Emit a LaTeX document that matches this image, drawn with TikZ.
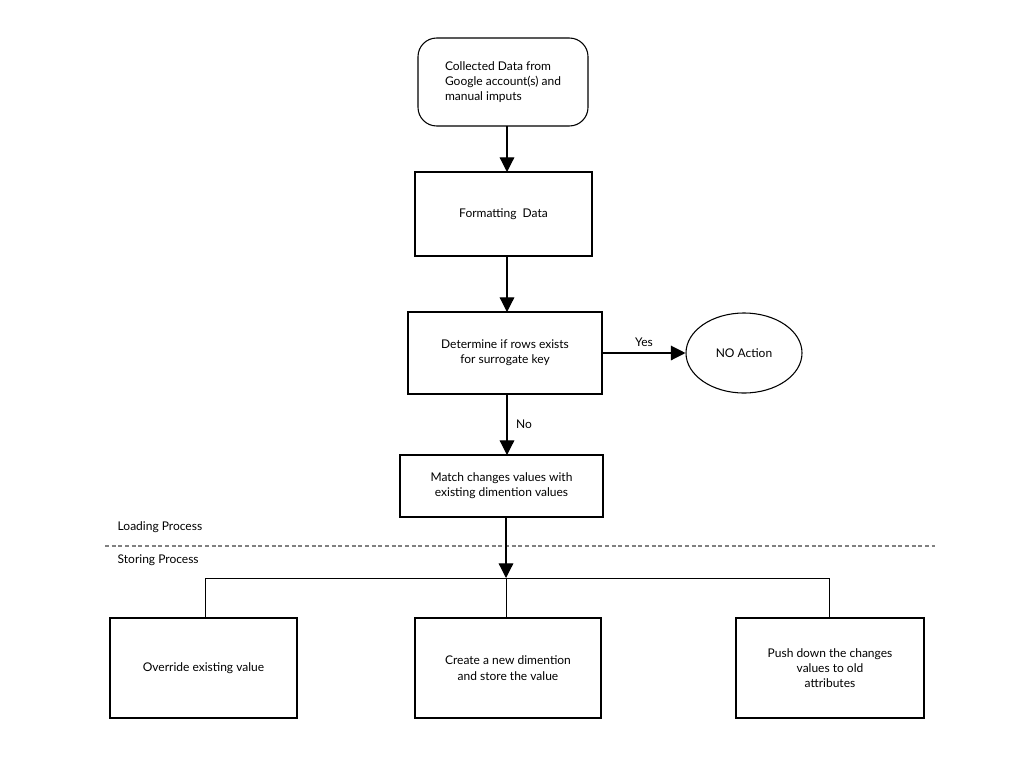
\documentclass[tikz,border=0pt]{standalone}
\usepackage{fontspec}
\setmainfont{Lato}
\usetikzlibrary{arrows.meta,shapes.geometric}
\begin{document}
\begin{tikzpicture}[x=0.75pt,y=-0.75pt,font=\fontsize{9}{11.5}\selectfont,
  box/.style={draw,line width=0.8pt,minimum width=#1*0.75pt,inner sep=0pt,align=center},
  arr/.style={line width=0.9pt,-{Triangle[length=11pt,width=11pt]}},
  ln/.style={line width=0.7pt}]
\useasboundingbox (0,0) rectangle (1024,764);
\node[box=170,rounded corners=14pt,minimum height=88*0.75pt,align=left] (c) at (503,82) {Collected Data from\\Google account(s) and\\manual imputs};
\node[box=177,minimum height=84*0.75pt] (f) at (503.5,214) {Formatting\ \ Data};
\node[box=194,minimum height=82*0.75pt] (d) at (505,353) {Determine if rows exists\\for surrogate key};
\node[draw,line width=0.8pt,ellipse,minimum width=116*0.75pt,minimum height=80*0.75pt] (e) at (744,353) {NO Action};
\node[box=203,minimum height=62*0.75pt] (m) at (501.5,486) {Match changes values with\\existing dimention values};
\node[box=187,minimum height=100*0.75pt] (b1) at (203.5,668) {Override existing value};
\node[box=186,minimum height=100*0.75pt] (b2) at (508,668) {Create a new dimention\\and store the value};
\node[box=188,minimum height=100*0.75pt] (b3) at (830,668) {Push down the changes\\values to old\\attributes};
\draw[arr] (507,126) -- (507,172);
\draw[arr] (507,256) -- (507,312);
\draw[arr] (d.east) -- node[above=1pt,pos=0.5] {Yes} (e.west);
\draw[arr] (507,394) -- node[right=3pt] {No} (507,455);
\draw[dashed,line width=1.2pt,gray,dash pattern=on 3pt off 2pt] (105,546) -- (935,546);
\node[anchor=west] (lp) at (113,527) {Loading Process};
\node[anchor=west] (sp) at (113,560) {Storing Process};
\coordinate (j) at (506,578);
\draw[arr] (506,517) -- (j);
\draw[ln] (205,618) -- (205,578) -- (829,578) -- (829,618);
\draw[ln] (j) -- (506,618);
\end{tikzpicture}
\end{document}
